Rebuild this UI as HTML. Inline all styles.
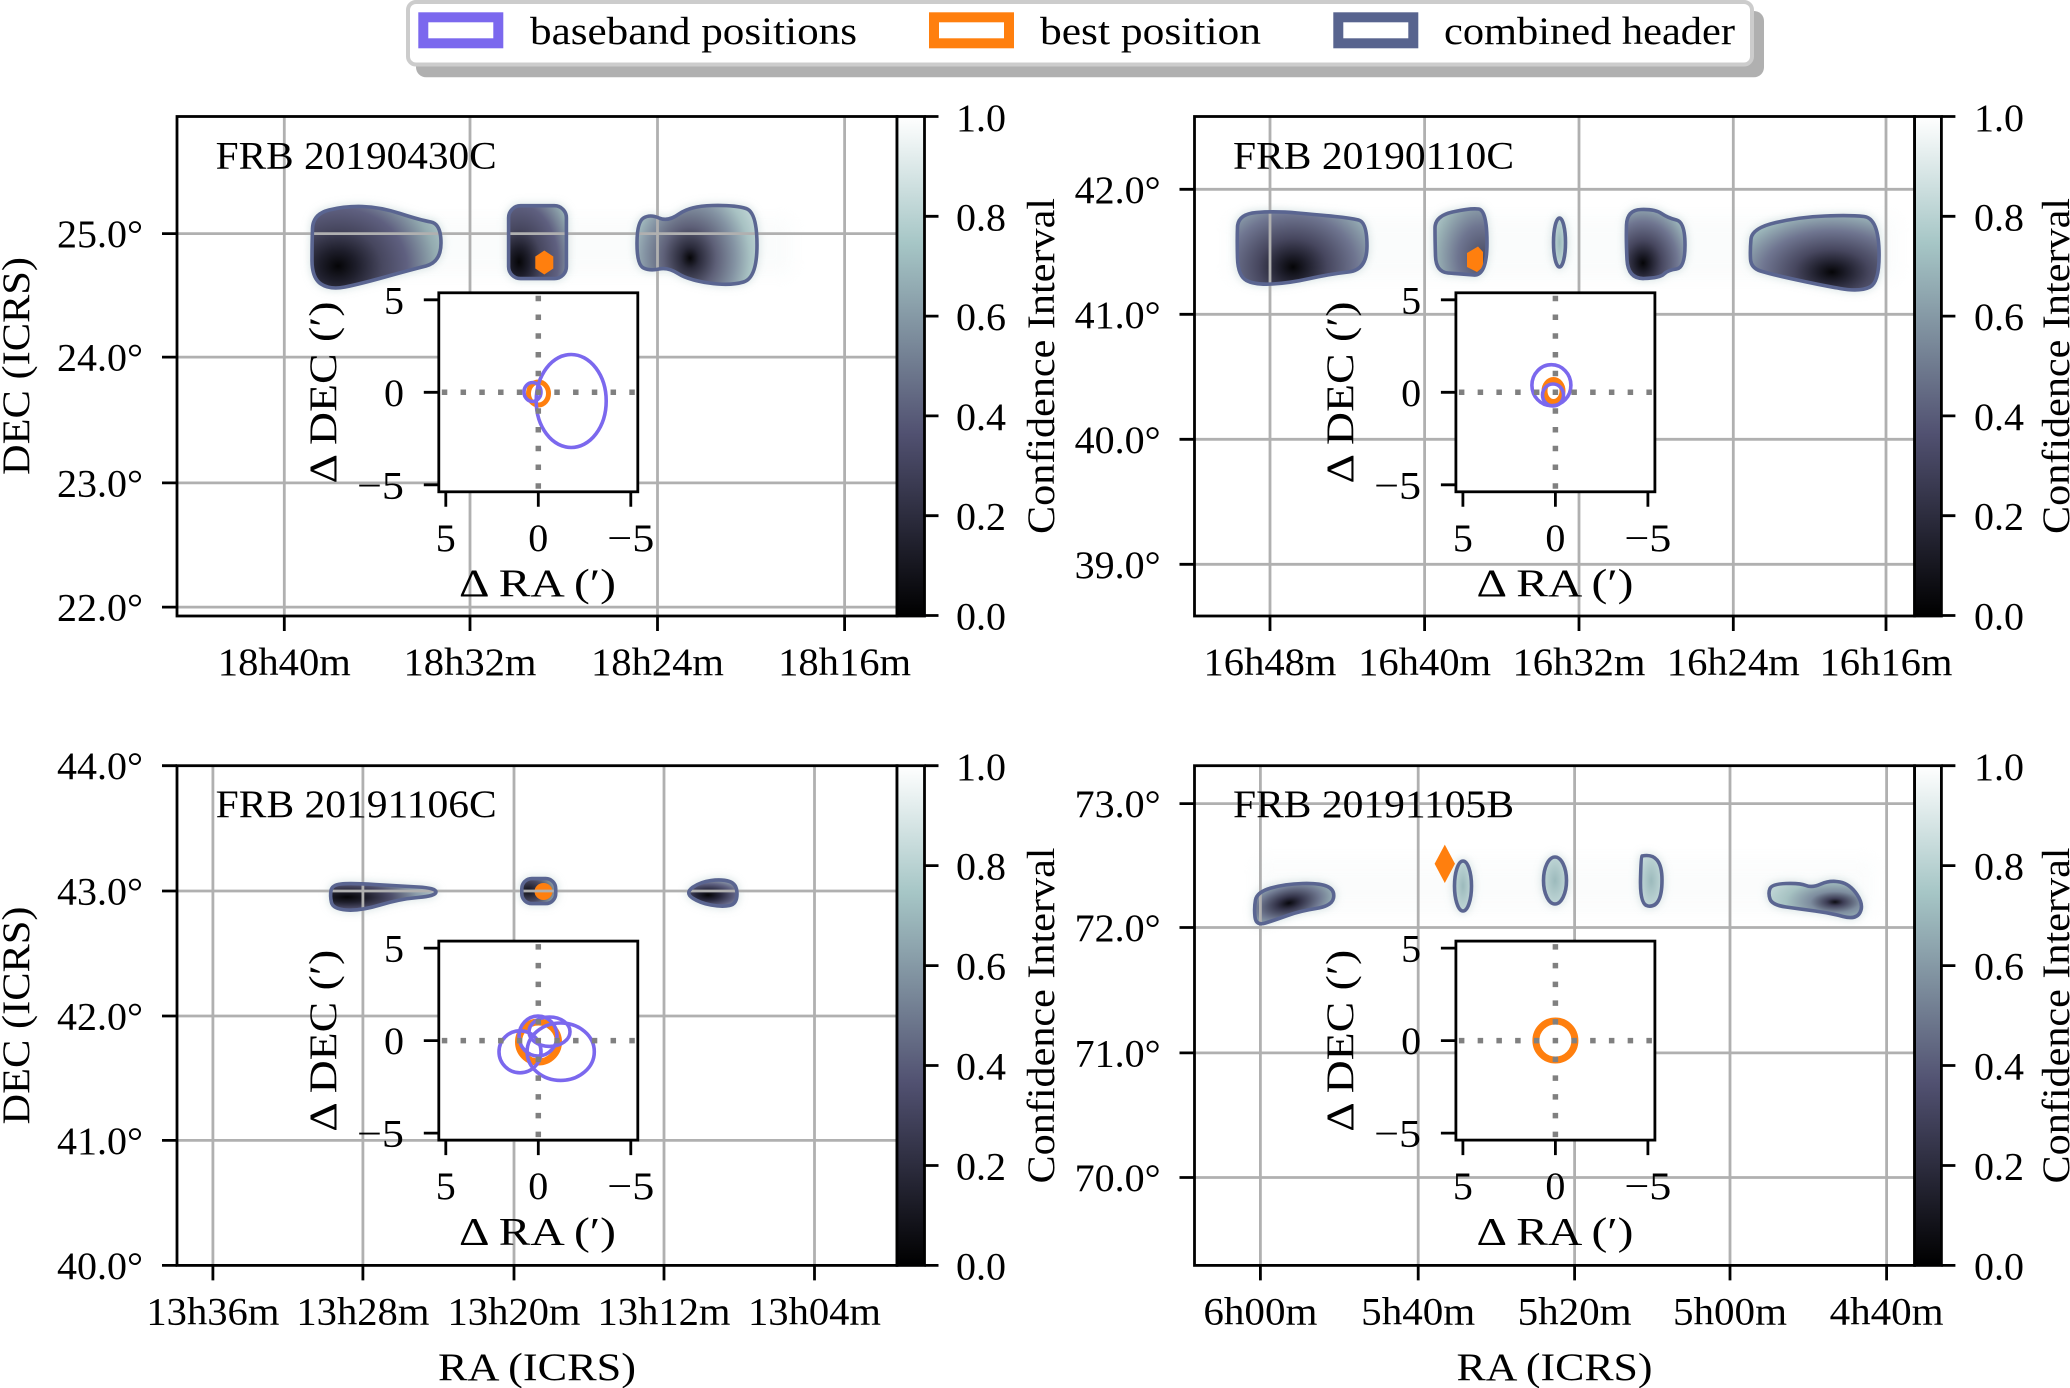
<!DOCTYPE html>
<html><head><meta charset="utf-8"><style>
html,body{margin:0;padding:0;background:#fff}
svg{display:block}
text{font-family:"Liberation Serif","DejaVu Serif",serif;font-size:39px;fill:#000}
.g{stroke:#b0b0b0;stroke-width:2.8;fill:none}
.k{stroke:#000;stroke-width:2.8;fill:none}
.fr{stroke:#000;stroke-width:2.8;fill:none}
.ct{fill:none;stroke:#5a6591;stroke-width:3.6}
.gl{fill:#b4cccc;stroke:#b4cccc;stroke-width:6;opacity:.45}
.dt{stroke:#808080;stroke-width:5.5;stroke-dasharray:5.5 13.25;fill:none}
.pu{fill:none;stroke:#7b68ee;stroke-width:3.6}
.or{fill:none;stroke:#ff7f0e}
</style></head><body>
<svg width="2070" height="1388" viewBox="0 0 2070 1388" xmlns="http://www.w3.org/2000/svg">
<defs>
<linearGradient id="bone" x1="0" y1="1" x2="0" y2="0">
<stop offset="0" stop-color="#000"/><stop offset="0.365" stop-color="rgb(81,81,113)"/><stop offset="0.746" stop-color="rgb(166,198,198)"/><stop offset="1" stop-color="#fff"/>
</linearGradient>
<filter id="glow" x="-40%" y="-80%" width="180%" height="260%"><feGaussianBlur stdDeviation="4"/></filter>
<filter id="haze" x="-20%" y="-80%" width="140%" height="260%"><feGaussianBlur stdDeviation="8"/></filter>

<radialGradient id="gA1" gradientUnits="userSpaceOnUse" cx="0" cy="0" r="1" gradientTransform="translate(338 266) scale(125 105)">
<stop offset="0" stop-color="#050507"/><stop offset="0.15" stop-color="#1e1e2b"/><stop offset="0.35" stop-color="#47475f"/><stop offset="0.55" stop-color="#5f6080"/><stop offset="0.78" stop-color="#93abb0"/><stop offset="1" stop-color="#bcd4d4"/></radialGradient>
<radialGradient id="gA2" gradientUnits="userSpaceOnUse" cx="0" cy="0" r="1" gradientTransform="translate(519 262) scale(65 95)">
<stop offset="0" stop-color="#050507"/><stop offset="0.15" stop-color="#1e1e2b"/><stop offset="0.35" stop-color="#47475f"/><stop offset="0.6" stop-color="#5f6080"/><stop offset="0.85" stop-color="#93abb0"/><stop offset="1" stop-color="#bcd4d4"/></radialGradient>
<radialGradient id="gA3" gradientUnits="userSpaceOnUse" cx="0" cy="0" r="1" gradientTransform="translate(690 258) scale(75 90)">
<stop offset="0" stop-color="#050507"/><stop offset="0.12" stop-color="#2a2a3a"/><stop offset="0.35" stop-color="#5e6078"/><stop offset="0.6" stop-color="#8493a3"/><stop offset="0.8" stop-color="#a8c2c3"/><stop offset="1" stop-color="#c4d9d9"/></radialGradient>
<radialGradient id="gB1" gradientUnits="userSpaceOnUse" cx="0" cy="0" r="1" gradientTransform="translate(1293 267) scale(115 95)">
<stop offset="0" stop-color="#050507"/><stop offset="0.12" stop-color="#1e1e2b"/><stop offset="0.3" stop-color="#47475f"/><stop offset="0.55" stop-color="#6f7590"/><stop offset="0.8" stop-color="#9db8bb"/><stop offset="1" stop-color="#c0d6d6"/></radialGradient>
<radialGradient id="gB2" gradientUnits="userSpaceOnUse" cx="0" cy="0" r="1" gradientTransform="translate(1482 258) scale(60 80)">
<stop offset="0" stop-color="#4a4c64"/><stop offset="0.4" stop-color="#6e7590"/><stop offset="0.75" stop-color="#98b0b4"/><stop offset="1" stop-color="#bcd4d4"/></radialGradient>
<radialGradient id="gT" cx="0.5" cy="0.5" r="0.6">
<stop offset="0" stop-color="#9cbabc"/><stop offset="1" stop-color="#c6dbdb"/></radialGradient>
<radialGradient id="gB4" gradientUnits="userSpaceOnUse" cx="0" cy="0" r="1" gradientTransform="translate(1643 263) scale(62 75)">
<stop offset="0" stop-color="#050507"/><stop offset="0.12" stop-color="#1e1e2b"/><stop offset="0.3" stop-color="#47475f"/><stop offset="0.55" stop-color="#6f7590"/><stop offset="0.8" stop-color="#9db8bb"/><stop offset="1" stop-color="#c0d6d6"/></radialGradient>
<radialGradient id="gB5" gradientUnits="userSpaceOnUse" cx="0" cy="0" r="1" gradientTransform="translate(1832 272) scale(125 75)">
<stop offset="0" stop-color="#050507"/><stop offset="0.12" stop-color="#1e1e2b"/><stop offset="0.3" stop-color="#47475f"/><stop offset="0.55" stop-color="#6f7590"/><stop offset="0.8" stop-color="#9db8bb"/><stop offset="1" stop-color="#c0d6d6"/></radialGradient>
<radialGradient id="gC1" gradientUnits="userSpaceOnUse" cx="0" cy="0" r="1" gradientTransform="translate(347 897) scale(100 26)">
<stop offset="0" stop-color="#050507"/><stop offset="0.2" stop-color="#1e1e2b"/><stop offset="0.45" stop-color="#4e4e6a"/><stop offset="0.7" stop-color="#8b9caa"/><stop offset="1" stop-color="#c0d6d6"/></radialGradient>
<radialGradient id="gC2" gradientUnits="userSpaceOnUse" cx="0" cy="0" r="1" gradientTransform="translate(528 891) scale(32 22)">
<stop offset="0" stop-color="#101018"/><stop offset="0.5" stop-color="#4a4a62"/><stop offset="1" stop-color="#a6c0c2"/></radialGradient>
<radialGradient id="gC3" gradientUnits="userSpaceOnUse" cx="0" cy="0" r="1" gradientTransform="translate(708 895) scale(48 20)">
<stop offset="0" stop-color="#050507"/><stop offset="0.25" stop-color="#26263a"/><stop offset="0.55" stop-color="#5e6080"/><stop offset="1" stop-color="#bcd4d4"/></radialGradient>
<radialGradient id="gD1" gradientUnits="userSpaceOnUse" cx="0" cy="0" r="1" gradientTransform="translate(1289 903) rotate(-12) scale(62 30)">
<stop offset="0" stop-color="#08080d"/><stop offset="0.2" stop-color="#34344a"/><stop offset="0.5" stop-color="#6f7890"/><stop offset="0.8" stop-color="#a2bebf"/><stop offset="1" stop-color="#c0d6d6"/></radialGradient>
<radialGradient id="gD5" gradientUnits="userSpaceOnUse" cx="0" cy="0" r="1" gradientTransform="translate(1835 902) scale(70 30)">
<stop offset="0" stop-color="#0c0c12"/><stop offset="0.12" stop-color="#3e3e56"/><stop offset="0.35" stop-color="#7d8c9e"/><stop offset="0.7" stop-color="#a6c2c2"/><stop offset="1" stop-color="#c0d6d6"/></radialGradient>

<path id="a1" d="M 312.5 228.5 Q 313 214 329 210 Q 345 206 362.5 206.5 Q 380 207 400 213.5 Q 420 220 431 222 Q 441 224 441 243 Q 441 262 426 266 Q 410 270 385 277 Q 360 284 345 287 Q 330 290 321 284 Q 312 278 312 260.5 Q 312 243 312.5 228.5 Z"/>
<rect id="a2" x="508.6" y="205.7" width="57.8" height="72.9" rx="12"/>
<path id="a3" d="M 643.5 218 Q 650 214 659 218 Q 668 222 679 214 Q 690 206 712.5 205.5 Q 735 205 746 208.5 Q 757 212 757 245 Q 757 278 743.5 282 Q 730 286 709 283 Q 688 280 678 273.5 Q 668 267 659 269 Q 650 271 643.5 268 Q 637 265 637 243.5 Q 637 222 643.5 218 Z"/>
<path id="b1" d="M 1237.5 227 Q 1238 214 1256.5 212.5 Q 1275 211 1297.5 213 Q 1320 215 1335 216.5 Q 1350 218 1358.5 220 Q 1367 222 1367 246 Q 1367 270 1348.5 272 Q 1330 274 1310 278.5 Q 1290 283 1272.5 284 Q 1255 285 1246.5 280.5 Q 1238 276 1237.5 258 Q 1237 240 1237.5 227 Z"/>
<path id="b2" d="M 1435 228 Q 1435 216 1452.5 212 Q 1470 208 1478.5 209 Q 1487 210 1487 243 Q 1487 276 1473.5 275 Q 1460 274 1448 273 Q 1436 272 1435.5 256 Q 1435 240 1435 228 Z"/>
<ellipse id="b3" cx="1559.5" cy="242.5" rx="6" ry="24.5"/>
<path id="b4" d="M 1626.5 225 Q 1627 210 1641 209.5 Q 1655 209 1661.5 213.5 Q 1668 218 1676.5 220 Q 1685 222 1685 245 Q 1685 268 1676.5 269 Q 1668 270 1664 274 Q 1660 278 1644 278.5 Q 1628 279 1627 259.5 Q 1626 240 1626.5 225 Z"/>
<path id="b5" d="M 1751 239 Q 1752 228 1776 222.5 Q 1800 217 1825 216 Q 1850 215 1864 216.5 Q 1878 218 1879 250 Q 1880 282 1870 287 Q 1860 292 1840 288.5 Q 1820 285 1795 279.5 Q 1770 274 1760.5 271 Q 1751 268 1750.5 259 Q 1750 250 1751 239 Z"/>
<path id="c1" d="M 331 890.5 Q 332 885 341 884 Q 350 883 375 884.5 Q 400 886 418 887 Q 436 888 436 892 Q 436 896 418 897.5 Q 400 899 380 905 Q 360 911 346.5 910 Q 333 909 331.5 902.5 Q 330 896 331 890.5 Z"/>
<rect id="c2" x="521.8" y="878.6" width="33.9" height="25" rx="10"/>
<path id="c3" d="M 692.5 887.5 Q 700 882 711 880.5 Q 722 879 729.5 881.5 Q 737 884 737 894 Q 737 904 729.5 905.5 Q 722 907 711 905 Q 700 903 692.5 898 Q 685 893 692.5 887.5 Z"/>
<path id="d1" d="M 1255.5 900 Q 1257 892 1271 888 Q 1285 884 1302.5 883.5 Q 1320 883 1327.5 886.5 Q 1335 890 1333.5 898 Q 1332 906 1316 908.5 Q 1300 911 1287.5 915.5 Q 1275 920 1265.5 923 Q 1256 926 1255 917 Q 1254 908 1255.5 900 Z"/>
<ellipse id="d2" cx="1463" cy="886" rx="8.5" ry="25"/>
<ellipse id="d3" cx="1555" cy="880.5" rx="11.5" ry="23.5"/>
<path id="d4" d="M 1642 856 Q 1662 852 1662 880 Q 1662 908 1648 906 Q 1640 905 1640.5 880 Q 1641 857 1642 856 Z"/>
<path id="d5" d="M 1770 888.5 Q 1772 884 1786 883.5 Q 1800 883 1806 885.5 Q 1812 888 1821 884 Q 1830 880 1840 882 Q 1850 884 1857 894.5 Q 1864 905 1860 912.5 Q 1856 920 1843 916.5 Q 1830 913 1815 911 Q 1800 909 1786 907 Q 1772 905 1770 899 Q 1768 893 1770 888.5 Z"/>
</defs>

<rect x="0" y="0" width="2070" height="1388" fill="#fff"/>

<!-- LEGEND -->
<rect x="416" y="11" width="1348" height="66.3" rx="10" fill="#b0b0b0"/>
<rect x="408" y="2" width="1344" height="62.5" rx="8" fill="#fff" stroke="#cccccc" stroke-width="4"/>
<rect x="423.3" y="17.3" width="75" height="26" fill="#fff" stroke="#7b68ee" stroke-width="10"/>
<text x="530" y="44" textLength="327" lengthAdjust="spacingAndGlyphs">baseband positions</text>
<rect x="934" y="17.3" width="75" height="26" fill="#fff" stroke="#ff7f0e" stroke-width="10"/>
<text x="1040" y="44" textLength="221" lengthAdjust="spacingAndGlyphs">best position</text>
<rect x="1338.3" y="17.3" width="75" height="26" fill="#fff" stroke="#58648f" stroke-width="10"/>
<text x="1444" y="44" textLength="291" lengthAdjust="spacingAndGlyphs">combined header</text>

<!-- HAZE -->
<g filter="url(#haze)" opacity="0.35">
<rect x="318" y="218" width="475" height="58" fill="#f2f7f7"/>
<rect x="1228" y="216" width="670" height="64" fill="#f2f7f7"/>
<rect x="1255" y="858" width="620" height="56" fill="#f4f8f8"/>
</g>
<!-- GLOW -->
<g filter="url(#glow)">
<use href="#a1" class="gl"/><use href="#a2" class="gl"/><use href="#a3" class="gl"/>
<use href="#b1" class="gl"/><use href="#b2" class="gl"/><use href="#b3" class="gl"/><use href="#b4" class="gl"/><use href="#b5" class="gl"/>
<use href="#c1" class="gl"/><use href="#c2" class="gl"/><use href="#c3" class="gl"/>
<use href="#d1" class="gl"/><use href="#d2" class="gl"/><use href="#d3" class="gl"/><use href="#d4" class="gl"/><use href="#d5" class="gl"/>
</g>
<!-- FILLS -->
<use href="#a1" fill="url(#gA1)"/><use href="#a2" fill="url(#gA2)"/><use href="#a3" fill="url(#gA3)"/>
<use href="#b1" fill="url(#gB1)"/><use href="#b2" fill="url(#gB2)"/><use href="#b3" fill="url(#gT)"/><use href="#b4" fill="url(#gB4)"/><use href="#b5" fill="url(#gB5)"/>
<use href="#c1" fill="url(#gC1)"/><use href="#c2" fill="url(#gC2)"/><use href="#c3" fill="url(#gC3)"/>
<use href="#d1" fill="url(#gD1)"/><use href="#d2" fill="url(#gT)"/><use href="#d3" fill="url(#gT)"/><use href="#d4" fill="url(#gT)"/><use href="#d5" fill="url(#gD5)"/>

<!-- MARKERS -->
<polygon points="544.3,250.5 553.3,256.5 553.3,268.5 544.3,274.5 535.3,268.5 535.3,256.5" fill="#ff7f0e"/>
<polygon points="1478,246.5 1483,252 1483,267 1477,272 1467,267 1467,253" fill="#ff7f0e"/>
<ellipse cx="543.5" cy="891.5" rx="9" ry="8.5" fill="#ff7f0e"/>
<polygon points="1444.8,844.6 1455,863.8 1444.8,883 1434.6,863.8" fill="#ff7f0e"/>

<!-- GRIDS -->
<g class="g">
<path d="M284.3 116.5V616M470 116.5V616M657.5 116.5V616M844.6 116.5V616M177 233.6H897M177 357.1H897M177 482.9H897M177 607.1H897"/>
<path d="M1270 116.5V616M1424.6 116.5V616M1579 116.5V616M1733.3 116.5V616M1886 116.5V616M1194.5 189.3H1914.6M1194.5 314.3H1914.6M1194.5 439.3H1914.6M1194.5 564.3H1914.6"/>
<path d="M212.9 765.7V1265.4M362.9 765.7V1265.4M514 765.7V1265.4M664 765.7V1265.4M814.5 765.7V1265.4M177 891H897M177 1016H897M177 1140.4H897"/>
<path d="M1260.4 765.7V1265.4M1418.2 765.7V1265.4M1574.6 765.7V1265.4M1730 765.7V1265.4M1886.6 765.7V1265.4M1194.5 803.6H1914.6M1194.5 927.5H1914.6M1194.5 1052.9H1914.6M1194.5 1177.5H1914.6"/>
</g>

<!-- CONTOURS -->
<use href="#a1" class="ct"/><use href="#a2" class="ct"/><use href="#a3" class="ct"/>
<use href="#b1" class="ct"/><use href="#b2" class="ct"/><use href="#b3" class="ct"/><use href="#b4" class="ct"/><use href="#b5" class="ct"/>
<use href="#c1" class="ct"/><use href="#c2" class="ct"/><use href="#c3" class="ct"/>
<use href="#d1" class="ct"/><use href="#d2" class="ct"/><use href="#d3" class="ct"/><use href="#d4" class="ct"/><use href="#d5" class="ct"/>

<!-- FRAMES -->
<rect x="177" y="116.5" width="720" height="499.5" class="fr"/>
<rect x="1194.5" y="116.5" width="720.1" height="499.5" class="fr"/>
<rect x="177" y="765.7" width="720" height="499.7" class="fr"/>
<rect x="1194.5" y="765.7" width="720.1" height="499.7" class="fr"/>

<!-- MAIN TICKS -->
<g class="k">
<path d="M162 233.6H177M162 357.1H177M162 482.9H177M162 607.1H177M284.3 616V631M470 616V631M657.5 616V631M844.6 616V631"/>
<path d="M1179.5 189.3H1194.5M1179.5 314.3H1194.5M1179.5 439.3H1194.5M1179.5 564.3H1194.5M1270 616V631M1424.6 616V631M1579 616V631M1733.3 616V631M1886 616V631"/>
<path d="M162 765.7H177M162 891H177M162 1016H177M162 1140.4H177M162 1265.4H177M212.9 1265.4V1280.4M362.9 1265.4V1280.4M514 1265.4V1280.4M664 1265.4V1280.4M814.5 1265.4V1280.4"/>
<path d="M1179.5 803.6H1194.5M1179.5 927.5H1194.5M1179.5 1052.9H1194.5M1179.5 1177.5H1194.5M1260.4 1265.4V1280.4M1418.2 1265.4V1280.4M1574.6 1265.4V1280.4M1730 1265.4V1280.4M1886.6 1265.4V1280.4"/>
</g>

<!-- MAIN TICK LABELS -->
<g text-anchor="end">
<text x="143" y="247.1" textLength="86" lengthAdjust="spacingAndGlyphs">25.0°</text>
<text x="143" y="370.6" textLength="86" lengthAdjust="spacingAndGlyphs">24.0°</text>
<text x="143" y="496.4" textLength="86" lengthAdjust="spacingAndGlyphs">23.0°</text>
<text x="143" y="620.6" textLength="86" lengthAdjust="spacingAndGlyphs">22.0°</text>
<text x="1160.7" y="202.8" textLength="86" lengthAdjust="spacingAndGlyphs">42.0°</text>
<text x="1160.7" y="327.8" textLength="86" lengthAdjust="spacingAndGlyphs">41.0°</text>
<text x="1160.7" y="452.8" textLength="86" lengthAdjust="spacingAndGlyphs">40.0°</text>
<text x="1160.7" y="577.8" textLength="86" lengthAdjust="spacingAndGlyphs">39.0°</text>
<text x="143" y="779.2" textLength="86" lengthAdjust="spacingAndGlyphs">44.0°</text>
<text x="143" y="904.5" textLength="86" lengthAdjust="spacingAndGlyphs">43.0°</text>
<text x="143" y="1029.5" textLength="86" lengthAdjust="spacingAndGlyphs">42.0°</text>
<text x="143" y="1153.9" textLength="86" lengthAdjust="spacingAndGlyphs">41.0°</text>
<text x="143" y="1278.9" textLength="86" lengthAdjust="spacingAndGlyphs">40.0°</text>
<text x="1160.7" y="817.1" textLength="86" lengthAdjust="spacingAndGlyphs">73.0°</text>
<text x="1160.7" y="941" textLength="86" lengthAdjust="spacingAndGlyphs">72.0°</text>
<text x="1160.7" y="1066.4" textLength="86" lengthAdjust="spacingAndGlyphs">71.0°</text>
<text x="1160.7" y="1191" textLength="86" lengthAdjust="spacingAndGlyphs">70.0°</text>
</g>
<g text-anchor="middle">
<text x="284.3" y="675" textLength="133" lengthAdjust="spacingAndGlyphs">18h40m</text>
<text x="470" y="675" textLength="133" lengthAdjust="spacingAndGlyphs">18h32m</text>
<text x="657.5" y="675" textLength="133" lengthAdjust="spacingAndGlyphs">18h24m</text>
<text x="844.6" y="675" textLength="133" lengthAdjust="spacingAndGlyphs">18h16m</text>
<text x="1270" y="675" textLength="133" lengthAdjust="spacingAndGlyphs">16h48m</text>
<text x="1424.6" y="675" textLength="133" lengthAdjust="spacingAndGlyphs">16h40m</text>
<text x="1579" y="675" textLength="133" lengthAdjust="spacingAndGlyphs">16h32m</text>
<text x="1733.3" y="675" textLength="133" lengthAdjust="spacingAndGlyphs">16h24m</text>
<text x="1886" y="675" textLength="133" lengthAdjust="spacingAndGlyphs">16h16m</text>
<text x="212.9" y="1324.5" textLength="133" lengthAdjust="spacingAndGlyphs">13h36m</text>
<text x="362.9" y="1324.5" textLength="133" lengthAdjust="spacingAndGlyphs">13h28m</text>
<text x="514" y="1324.5" textLength="133" lengthAdjust="spacingAndGlyphs">13h20m</text>
<text x="664" y="1324.5" textLength="133" lengthAdjust="spacingAndGlyphs">13h12m</text>
<text x="814.5" y="1324.5" textLength="133" lengthAdjust="spacingAndGlyphs">13h04m</text>
<text x="1260.4" y="1324.5" textLength="114" lengthAdjust="spacingAndGlyphs">6h00m</text>
<text x="1418.2" y="1324.5" textLength="114" lengthAdjust="spacingAndGlyphs">5h40m</text>
<text x="1574.6" y="1324.5" textLength="114" lengthAdjust="spacingAndGlyphs">5h20m</text>
<text x="1730" y="1324.5" textLength="114" lengthAdjust="spacingAndGlyphs">5h00m</text>
<text x="1886.6" y="1324.5" textLength="114" lengthAdjust="spacingAndGlyphs">4h40m</text>
<text x="537" y="1380" textLength="198" lengthAdjust="spacingAndGlyphs">RA (ICRS)</text>
<text x="1554.5" y="1380" textLength="196" lengthAdjust="spacingAndGlyphs">RA (ICRS)</text>
<text transform="translate(29 366) rotate(-90)" textLength="218" lengthAdjust="spacingAndGlyphs">DEC (ICRS)</text>
<text transform="translate(29 1015.5) rotate(-90)" textLength="218" lengthAdjust="spacingAndGlyphs">DEC (ICRS)</text>
<text transform="translate(1054 366) rotate(-90)" textLength="336" lengthAdjust="spacingAndGlyphs">Confidence Interval</text>
<text transform="translate(2069 366) rotate(-90)" textLength="336" lengthAdjust="spacingAndGlyphs">Confidence Interval</text>
<text transform="translate(1054 1015.5) rotate(-90)" textLength="336" lengthAdjust="spacingAndGlyphs">Confidence Interval</text>
<text transform="translate(2069 1015.5) rotate(-90)" textLength="336" lengthAdjust="spacingAndGlyphs">Confidence Interval</text>
</g>

<!-- FRB LABELS -->
<text x="215.7" y="168.6" textLength="281" lengthAdjust="spacingAndGlyphs">FRB 20190430C</text>
<text x="1233" y="168.6" textLength="281" lengthAdjust="spacingAndGlyphs">FRB 20190110C</text>
<text x="215.7" y="817" textLength="281" lengthAdjust="spacingAndGlyphs">FRB 20191106C</text>
<text x="1233" y="817" textLength="281" lengthAdjust="spacingAndGlyphs">FRB 20191105B</text>

<!-- COLORBARS -->
<rect x="897" y="116.5" width="27.5" height="499.5" fill="url(#bone)"/>
<rect x="1914.6" y="116.5" width="26.8" height="499.5" fill="url(#bone)"/>
<rect x="897" y="765.7" width="27.5" height="499.7" fill="url(#bone)"/>
<rect x="1914.6" y="765.7" width="26.8" height="499.7" fill="url(#bone)"/>
<rect x="897" y="116.5" width="27.5" height="499.5" class="fr"/>
<rect x="1914.6" y="116.5" width="26.8" height="499.5" class="fr"/>
<rect x="897" y="765.7" width="27.5" height="499.7" class="fr"/>
<rect x="1914.6" y="765.7" width="26.8" height="499.7" class="fr"/>
<g class="k">
<path d="M924.5 116.5H938.5M924.5 216.3H938.5M924.5 316.1H938.5M924.5 415.9H938.5M924.5 515.7H938.5M924.5 615.5H938.5"/>
<path d="M1941.4 116.5H1955.4M1941.4 216.3H1955.4M1941.4 316.1H1955.4M1941.4 415.9H1955.4M1941.4 515.7H1955.4M1941.4 615.5H1955.4"/>
<path d="M924.5 765.7H938.5M924.5 865.6H938.5M924.5 965.6H938.5M924.5 1065.5H938.5M924.5 1165.5H938.5M924.5 1265.4H938.5"/>
<path d="M1941.4 765.7H1955.4M1941.4 865.6H1955.4M1941.4 965.6H1955.4M1941.4 1065.5H1955.4M1941.4 1165.5H1955.4M1941.4 1265.4H1955.4"/>
</g>
<g>
<text x="956" y="131" textLength="50" lengthAdjust="spacingAndGlyphs">1.0</text>
<text x="956" y="230.3" textLength="50" lengthAdjust="spacingAndGlyphs">0.8</text>
<text x="956" y="330.1" textLength="50" lengthAdjust="spacingAndGlyphs">0.6</text>
<text x="956" y="429.9" textLength="50" lengthAdjust="spacingAndGlyphs">0.4</text>
<text x="956" y="529.7" textLength="50" lengthAdjust="spacingAndGlyphs">0.2</text>
<text x="956" y="629.5" textLength="50" lengthAdjust="spacingAndGlyphs">0.0</text>
<text x="1974" y="131" textLength="50" lengthAdjust="spacingAndGlyphs">1.0</text>
<text x="1974" y="230.3" textLength="50" lengthAdjust="spacingAndGlyphs">0.8</text>
<text x="1974" y="330.1" textLength="50" lengthAdjust="spacingAndGlyphs">0.6</text>
<text x="1974" y="429.9" textLength="50" lengthAdjust="spacingAndGlyphs">0.4</text>
<text x="1974" y="529.7" textLength="50" lengthAdjust="spacingAndGlyphs">0.2</text>
<text x="1974" y="629.5" textLength="50" lengthAdjust="spacingAndGlyphs">0.0</text>
<text x="956" y="780.2" textLength="50" lengthAdjust="spacingAndGlyphs">1.0</text>
<text x="956" y="879.6" textLength="50" lengthAdjust="spacingAndGlyphs">0.8</text>
<text x="956" y="979.6" textLength="50" lengthAdjust="spacingAndGlyphs">0.6</text>
<text x="956" y="1079.5" textLength="50" lengthAdjust="spacingAndGlyphs">0.4</text>
<text x="956" y="1179.5" textLength="50" lengthAdjust="spacingAndGlyphs">0.2</text>
<text x="956" y="1279.4" textLength="50" lengthAdjust="spacingAndGlyphs">0.0</text>
<text x="1974" y="780.2" textLength="50" lengthAdjust="spacingAndGlyphs">1.0</text>
<text x="1974" y="879.6" textLength="50" lengthAdjust="spacingAndGlyphs">0.8</text>
<text x="1974" y="979.6" textLength="50" lengthAdjust="spacingAndGlyphs">0.6</text>
<text x="1974" y="1079.5" textLength="50" lengthAdjust="spacingAndGlyphs">0.4</text>
<text x="1974" y="1179.5" textLength="50" lengthAdjust="spacingAndGlyphs">0.2</text>
<text x="1974" y="1279.4" textLength="50" lengthAdjust="spacingAndGlyphs">0.0</text>
</g>

<!-- INSET TL -->
<rect x="438.8" y="292.8" width="199" height="199" fill="#fff"/>
<ellipse cx="538.5" cy="393.5" rx="10" ry="11.5" class="or" stroke-width="5"/>
<ellipse cx="532.5" cy="392" rx="8.5" ry="9.5" class="pu"/>
<ellipse cx="571.2" cy="401" rx="35" ry="46.5" class="pu"/>
<path class="dt" d="M535.55 392.3H636M541.05 392.3H441M538.3 389.55V490M538.3 395.05V295"/>
<rect x="438.8" y="292.8" width="199" height="199" class="fr"/>
<path class="k" d="M423.8 299.8H438.8M423.8 392.3H438.8M423.8 484.8H438.8M445.8 491.8V506.8M538.3 491.8V506.8M630.8 491.8V506.8"/>
<g text-anchor="end"><text x="404" y="313.3" textLength="20" lengthAdjust="spacingAndGlyphs">5</text><text x="404" y="405.8" textLength="20" lengthAdjust="spacingAndGlyphs">0</text><text x="404" y="498.3" textLength="47" lengthAdjust="spacingAndGlyphs">−5</text></g>
<g text-anchor="middle"><text x="445.8" y="550.8" textLength="20" lengthAdjust="spacingAndGlyphs">5</text><text x="538.3" y="550.8" textLength="20" lengthAdjust="spacingAndGlyphs">0</text><text x="630.8" y="550.8" textLength="47" lengthAdjust="spacingAndGlyphs">−5</text>
<text x="537.5" y="596" textLength="157" lengthAdjust="spacingAndGlyphs">Δ RA (′)</text>
<text transform="translate(336 392.5) rotate(-90)" textLength="182" lengthAdjust="spacingAndGlyphs">Δ DEC (′)</text></g>

<!-- INSET TR -->
<rect x="1455.9" y="292.8" width="199" height="199" fill="#fff"/>
<ellipse cx="1553.5" cy="391" rx="9" ry="11" class="or" stroke-width="6"/>
<ellipse cx="1553" cy="395" rx="10.5" ry="11" class="pu"/>
<ellipse cx="1551.4" cy="385.2" rx="19.5" ry="20.5" class="pu"/>
<path class="dt" d="M1552.65 392.3H1653M1558.15 392.3H1458M1555.4 389.55V490M1555.4 395.05V295"/>
<rect x="1455.9" y="292.8" width="199" height="199" class="fr"/>
<path class="k" d="M1440.9 299.8H1455.9M1440.9 392.3H1455.9M1440.9 484.8H1455.9M1462.9 491.8V506.8M1555.4 491.8V506.8M1647.9 491.8V506.8"/>
<g text-anchor="end"><text x="1421.1" y="313.3" textLength="20" lengthAdjust="spacingAndGlyphs">5</text><text x="1421.1" y="405.8" textLength="20" lengthAdjust="spacingAndGlyphs">0</text><text x="1421.1" y="498.3" textLength="47" lengthAdjust="spacingAndGlyphs">−5</text></g>
<g text-anchor="middle"><text x="1462.9" y="550.8" textLength="20" lengthAdjust="spacingAndGlyphs">5</text><text x="1555.4" y="550.8" textLength="20" lengthAdjust="spacingAndGlyphs">0</text><text x="1647.9" y="550.8" textLength="47" lengthAdjust="spacingAndGlyphs">−5</text>
<text x="1555" y="596" textLength="157" lengthAdjust="spacingAndGlyphs">Δ RA (′)</text>
<text transform="translate(1353 392.5) rotate(-90)" textLength="182" lengthAdjust="spacingAndGlyphs">Δ DEC (′)</text></g>

<!-- INSET BL -->
<rect x="438.8" y="941.1" width="199" height="199" fill="#fff"/>
<circle cx="538.5" cy="1042" r="20" class="or" stroke-width="7"/>
<ellipse cx="520" cy="1051.8" rx="21" ry="21" class="pu"/>
<ellipse cx="560.7" cy="1051.7" rx="33.6" ry="28.7" class="pu"/>
<ellipse cx="549.5" cy="1031.7" rx="20.5" ry="14.7" class="pu"/>
<ellipse cx="538" cy="1036" rx="19" ry="20" class="pu"/>
<path class="dt" d="M535.55 1040.6H636M541.05 1040.6H441M538.3 1037.85V1138M538.3 1043.35V943"/>
<rect x="438.8" y="941.1" width="199" height="199" class="fr"/>
<path class="k" d="M423.8 948.1H438.8M423.8 1040.6H438.8M423.8 1133.1H438.8M445.8 1140.1V1155.1M538.3 1140.1V1155.1M630.8 1140.1V1155.1"/>
<g text-anchor="end"><text x="404" y="961.6" textLength="20" lengthAdjust="spacingAndGlyphs">5</text><text x="404" y="1054.1" textLength="20" lengthAdjust="spacingAndGlyphs">0</text><text x="404" y="1146.6" textLength="47" lengthAdjust="spacingAndGlyphs">−5</text></g>
<g text-anchor="middle"><text x="445.8" y="1199.1" textLength="20" lengthAdjust="spacingAndGlyphs">5</text><text x="538.3" y="1199.1" textLength="20" lengthAdjust="spacingAndGlyphs">0</text><text x="630.8" y="1199.1" textLength="47" lengthAdjust="spacingAndGlyphs">−5</text>
<text x="537.5" y="1244.3" textLength="157" lengthAdjust="spacingAndGlyphs">Δ RA (′)</text>
<text transform="translate(336 1040.8) rotate(-90)" textLength="182" lengthAdjust="spacingAndGlyphs">Δ DEC (′)</text></g>

<!-- INSET BR -->
<rect x="1455.9" y="941.1" width="199" height="199" fill="#fff"/>
<circle cx="1555.4" cy="1040.5" r="19.5" class="or" stroke-width="7"/>
<path class="dt" d="M1552.65 1040.6H1653M1558.15 1040.6H1458M1555.4 1037.85V1138M1555.4 1043.35V943"/>
<rect x="1455.9" y="941.1" width="199" height="199" class="fr"/>
<path class="k" d="M1440.9 948.1H1455.9M1440.9 1040.6H1455.9M1440.9 1133.1H1455.9M1462.9 1140.1V1155.1M1555.4 1140.1V1155.1M1647.9 1140.1V1155.1"/>
<g text-anchor="end"><text x="1421.1" y="961.6" textLength="20" lengthAdjust="spacingAndGlyphs">5</text><text x="1421.1" y="1054.1" textLength="20" lengthAdjust="spacingAndGlyphs">0</text><text x="1421.1" y="1146.6" textLength="47" lengthAdjust="spacingAndGlyphs">−5</text></g>
<g text-anchor="middle"><text x="1462.9" y="1199.1" textLength="20" lengthAdjust="spacingAndGlyphs">5</text><text x="1555.4" y="1199.1" textLength="20" lengthAdjust="spacingAndGlyphs">0</text><text x="1647.9" y="1199.1" textLength="47" lengthAdjust="spacingAndGlyphs">−5</text>
<text x="1555" y="1244.3" textLength="157" lengthAdjust="spacingAndGlyphs">Δ RA (′)</text>
<text transform="translate(1353 1040.8) rotate(-90)" textLength="182" lengthAdjust="spacingAndGlyphs">Δ DEC (′)</text></g>
</svg>
</body></html>
